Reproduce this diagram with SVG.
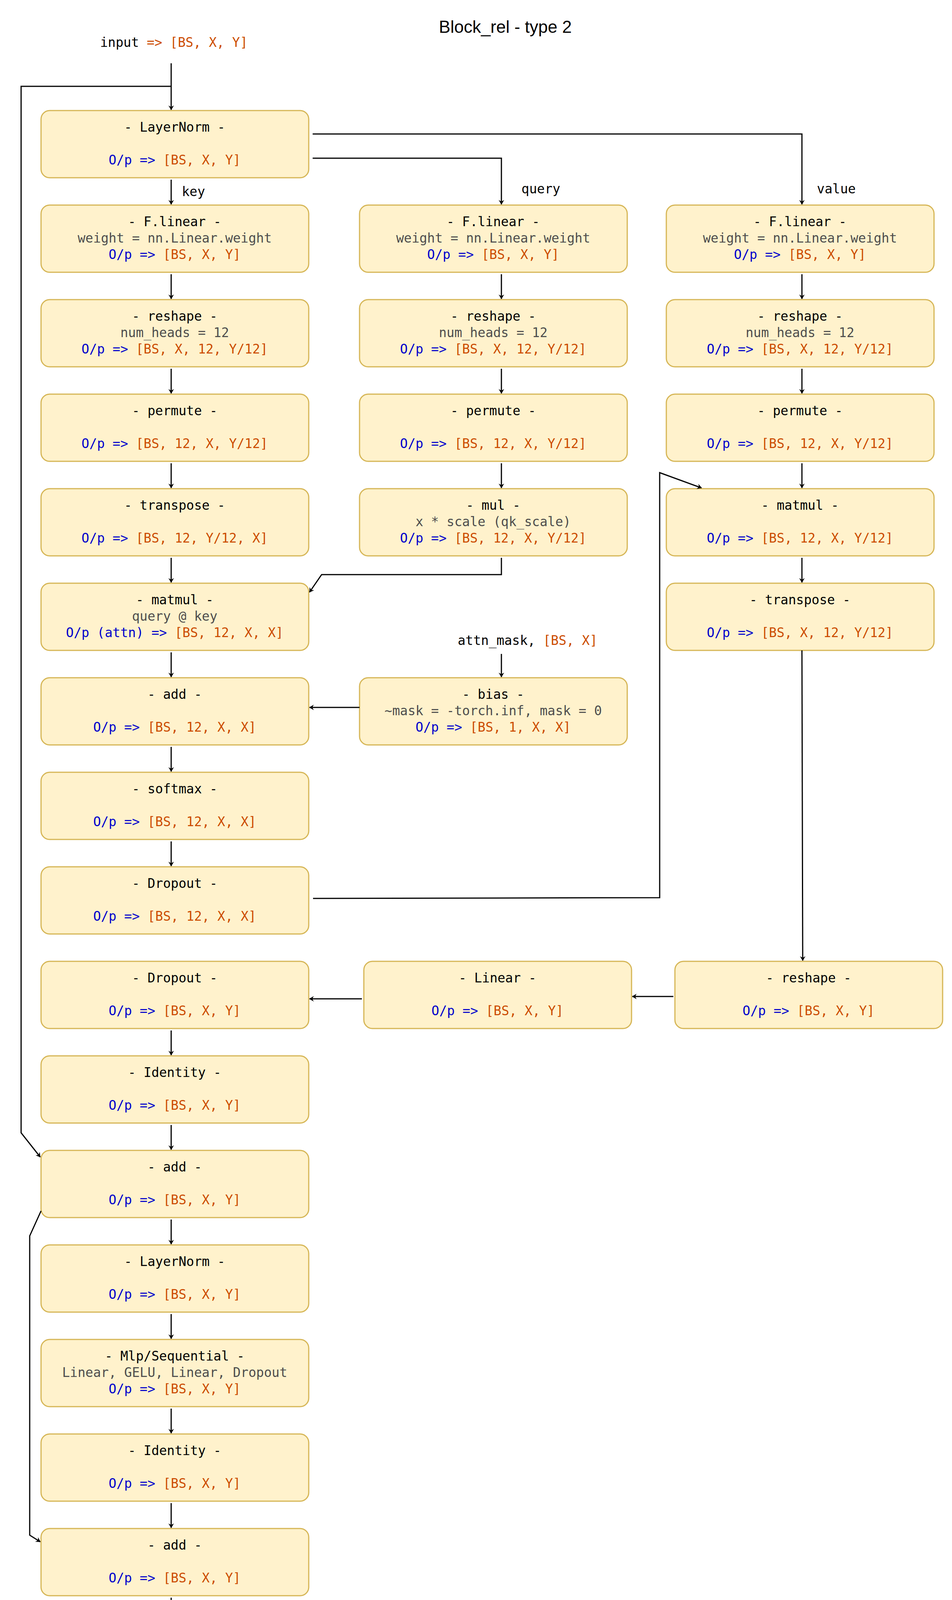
<svg xmlns="http://www.w3.org/2000/svg" width="2436" height="4200" viewBox="0 0 2436 4200">
<style>
.b{fill:#fff2cc;stroke:#d6b656;stroke-width:3}
text{font-family:"DejaVu Sans Mono","Liberation Mono",monospace;font-size:33px;text-anchor:middle;dominant-baseline:central;fill:#000}
.g{fill:#4d4d4d}.u{fill:#0000cc}.o{fill:#cc4c00}
.e path{fill:none;stroke:#000;stroke-width:3;marker-end:url(#a)}
.e path.n{marker-end:none}
</style>
<defs><marker id="a" markerWidth="12" markerHeight="14" refX="11" refY="7" orient="auto" markerUnits="userSpaceOnUse"><path d="M0,0 L12,7 L0,14 L4,7 Z" fill="#000"/></marker></defs>
<rect width="2436" height="4200" fill="#fff"/>
<text x="1293" y="68" style="font-family:'Liberation Sans',Arial,sans-serif;font-size:44px">Block_rel - type 2</text>
<text x="445" y="108">input <tspan class="o">=&gt; [BS, X, Y]</tspan></text>
<text x="495" y="490">key</text>
<text x="1384" y="483">query</text>
<text x="2140" y="483">value</text>
<text x="1350" y="1639">attn_mask, <tspan class="o">[BS, X]</tspan></text>

<g id="L0"><rect class="b" x="105" y="283" width="685" height="172" rx="22"/><text x="447" y="325">- LayerNorm -</text><text x="447" y="409"><tspan class="u">O/p =&gt;</tspan> <tspan class="o">[BS, X, Y]</tspan></text></g>
<g id="L1"><rect class="b" x="105" y="525" width="685" height="172" rx="22"/><text x="447" y="567">- F.linear -</text><text class="g" x="447" y="609">weight = nn.Linear.weight</text><text x="447" y="651"><tspan class="u">O/p =&gt;</tspan> <tspan class="o">[BS, X, Y]</tspan></text></g>
<g id="L2"><rect class="b" x="105" y="767" width="685" height="172" rx="22"/><text x="447" y="809">- reshape -</text><text class="g" x="447" y="851">num_heads = 12</text><text x="447" y="893"><tspan class="u">O/p =&gt;</tspan> <tspan class="o">[BS, X, 12, Y/12]</tspan></text></g>
<g id="L3"><rect class="b" x="105" y="1009" width="685" height="172" rx="22"/><text x="447" y="1051">- permute -</text><text x="447" y="1135"><tspan class="u">O/p =&gt;</tspan> <tspan class="o">[BS, 12, X, Y/12]</tspan></text></g>
<g id="L4"><rect class="b" x="105" y="1251" width="685" height="172" rx="22"/><text x="447" y="1293">- transpose -</text><text x="447" y="1377"><tspan class="u">O/p =&gt;</tspan> <tspan class="o">[BS, 12, Y/12, X]</tspan></text></g>
<g id="L5"><rect class="b" x="105" y="1493" width="685" height="172" rx="22"/><text x="447" y="1535">- matmul -</text><text class="g" x="447" y="1577">query @ key</text><text x="447" y="1619"><tspan class="u">O/p (attn) =&gt;</tspan> <tspan class="o">[BS, 12, X, X]</tspan></text></g>
<g id="L6"><rect class="b" x="105" y="1735" width="685" height="172" rx="22"/><text x="447" y="1777">- add -</text><text x="447" y="1861"><tspan class="u">O/p =&gt;</tspan> <tspan class="o">[BS, 12, X, X]</tspan></text></g>
<g id="L7"><rect class="b" x="105" y="1977" width="685" height="172" rx="22"/><text x="447" y="2019">- softmax -</text><text x="447" y="2103"><tspan class="u">O/p =&gt;</tspan> <tspan class="o">[BS, 12, X, X]</tspan></text></g>
<g id="L8"><rect class="b" x="105" y="2219" width="685" height="172" rx="22"/><text x="447" y="2261">- Dropout -</text><text x="447" y="2345"><tspan class="u">O/p =&gt;</tspan> <tspan class="o">[BS, 12, X, X]</tspan></text></g>
<g id="L9"><rect class="b" x="105" y="2461" width="685" height="172" rx="22"/><text x="447" y="2503">- Dropout -</text><text x="447" y="2587"><tspan class="u">O/p =&gt;</tspan> <tspan class="o">[BS, X, Y]</tspan></text></g>
<g id="L10"><rect class="b" x="105" y="2703" width="685" height="172" rx="22"/><text x="447" y="2745">- Identity -</text><text x="447" y="2829"><tspan class="u">O/p =&gt;</tspan> <tspan class="o">[BS, X, Y]</tspan></text></g>
<g id="L11"><rect class="b" x="105" y="2945" width="685" height="172" rx="22"/><text x="447" y="2987">- add -</text><text x="447" y="3071"><tspan class="u">O/p =&gt;</tspan> <tspan class="o">[BS, X, Y]</tspan></text></g>
<g id="L12"><rect class="b" x="105" y="3187" width="685" height="172" rx="22"/><text x="447" y="3229">- LayerNorm -</text><text x="447" y="3313"><tspan class="u">O/p =&gt;</tspan> <tspan class="o">[BS, X, Y]</tspan></text></g>
<g id="L13"><rect class="b" x="105" y="3429" width="685" height="172" rx="22"/><text x="447" y="3471">- Mlp/Sequential -</text><text class="g" x="447" y="3513">Linear, GELU, Linear, Dropout</text><text x="447" y="3555"><tspan class="u">O/p =&gt;</tspan> <tspan class="o">[BS, X, Y]</tspan></text></g>
<g id="L14"><rect class="b" x="105" y="3671" width="685" height="172" rx="22"/><text x="447" y="3713">- Identity -</text><text x="447" y="3797"><tspan class="u">O/p =&gt;</tspan> <tspan class="o">[BS, X, Y]</tspan></text></g>
<g id="L15"><rect class="b" x="105" y="3913" width="685" height="172" rx="22"/><text x="447" y="3955">- add -</text><text x="447" y="4039"><tspan class="u">O/p =&gt;</tspan> <tspan class="o">[BS, X, Y]</tspan></text></g>

<g id="M1"><rect class="b" x="920" y="525" width="685" height="172" rx="22"/><text x="1262" y="567">- F.linear -</text><text class="g" x="1262" y="609">weight = nn.Linear.weight</text><text x="1262" y="651"><tspan class="u">O/p =&gt;</tspan> <tspan class="o">[BS, X, Y]</tspan></text></g>
<g id="M2"><rect class="b" x="920" y="767" width="685" height="172" rx="22"/><text x="1262" y="809">- reshape -</text><text class="g" x="1262" y="851">num_heads = 12</text><text x="1262" y="893"><tspan class="u">O/p =&gt;</tspan> <tspan class="o">[BS, X, 12, Y/12]</tspan></text></g>
<g id="M3"><rect class="b" x="920" y="1009" width="685" height="172" rx="22"/><text x="1262" y="1051">- permute -</text><text x="1262" y="1135"><tspan class="u">O/p =&gt;</tspan> <tspan class="o">[BS, 12, X, Y/12]</tspan></text></g>
<g id="M4"><rect class="b" x="920" y="1251" width="685" height="172" rx="22"/><text x="1262" y="1293">- mul -</text><text class="g" x="1262" y="1335">x * scale (qk_scale)</text><text x="1262" y="1377"><tspan class="u">O/p =&gt;</tspan> <tspan class="o">[BS, 12, X, Y/12]</tspan></text></g>
<g id="M6"><rect class="b" x="920" y="1735" width="685" height="172" rx="22"/><text x="1262" y="1777">- bias -</text><text class="g" x="1262" y="1819">~mask = -torch.inf, mask = 0</text><text x="1262" y="1861"><tspan class="u">O/p =&gt;</tspan> <tspan class="o">[BS, 1, X, X]</tspan></text></g>
<g id="M9"><rect class="b" x="931" y="2461" width="685" height="172" rx="22"/><text x="1273" y="2503">- Linear -</text><text x="1273" y="2587"><tspan class="u">O/p =&gt;</tspan> <tspan class="o">[BS, X, Y]</tspan></text></g>

<g id="R1"><rect class="b" x="1705" y="525" width="685" height="172" rx="22"/><text x="2047" y="567">- F.linear -</text><text class="g" x="2047" y="609">weight = nn.Linear.weight</text><text x="2047" y="651"><tspan class="u">O/p =&gt;</tspan> <tspan class="o">[BS, X, Y]</tspan></text></g>
<g id="R2"><rect class="b" x="1705" y="767" width="685" height="172" rx="22"/><text x="2047" y="809">- reshape -</text><text class="g" x="2047" y="851">num_heads = 12</text><text x="2047" y="893"><tspan class="u">O/p =&gt;</tspan> <tspan class="o">[BS, X, 12, Y/12]</tspan></text></g>
<g id="R3"><rect class="b" x="1705" y="1009" width="685" height="172" rx="22"/><text x="2047" y="1051">- permute -</text><text x="2047" y="1135"><tspan class="u">O/p =&gt;</tspan> <tspan class="o">[BS, 12, X, Y/12]</tspan></text></g>
<g id="R4"><rect class="b" x="1705" y="1251" width="685" height="172" rx="22"/><text x="2047" y="1293">- matmul -</text><text x="2047" y="1377"><tspan class="u">O/p =&gt;</tspan> <tspan class="o">[BS, 12, X, Y/12]</tspan></text></g>
<g id="R5"><rect class="b" x="1705" y="1493" width="685" height="172" rx="22"/><text x="2047" y="1535">- transpose -</text><text x="2047" y="1619"><tspan class="u">O/p =&gt;</tspan> <tspan class="o">[BS, X, 12, Y/12]</tspan></text></g>
<g id="R9"><rect class="b" x="1727" y="2461" width="685" height="172" rx="22"/><text x="2069" y="2503">- reshape -</text><text x="2069" y="2587"><tspan class="u">O/p =&gt;</tspan> <tspan class="o">[BS, X, Y]</tspan></text></g>

<g class="e" id="edges">
<path d="M438,162 V281"/>
<path d="M438,221 H54 V2900 L103,2962"/>
<path d="M438,460 V523"/>
<path d="M800,343 H2052 V523"/>
<path d="M800,405 H1283 V523"/>
<path d="M438,702 V765"/><path d="M438,944 V1007"/><path d="M438,1186 V1249"/><path d="M438,1428 V1491"/>
<path d="M438,1670 V1733"/><path d="M438,1912 V1975"/><path d="M438,2154 V2217"/>
<path d="M438,2638 V2701"/><path d="M438,2880 V2943"/><path d="M438,3122 V3185"/><path d="M438,3364 V3427"/><path d="M438,3606 V3669"/><path d="M438,3848 V3911"/><path d="M438,4090 V4171"/>
<path d="M1283,702 V765"/><path d="M1283,944 V1007"/><path d="M1283,1186 V1249"/>
<path d="M1283,1428 V1471 H823 L792,1516"/>
<path d="M1283,1674 V1733"/>
<path d="M920,1811 H792"/>
<path d="M2052,702 V765"/><path d="M2052,944 V1007"/><path d="M2052,1186 V1249"/><path d="M2052,1428 V1491"/>
<path d="M801,2300 L1688,2298 V1210 L1795,1249"/>
<path d="M2052,1665 L2054,2459"/>
<path d="M1723,2551 H1618"/>
<path d="M926,2557 H792"/>
<path d="M105,3100 L76,3164 V3930 L103,3947"/>
</g>
</svg>
